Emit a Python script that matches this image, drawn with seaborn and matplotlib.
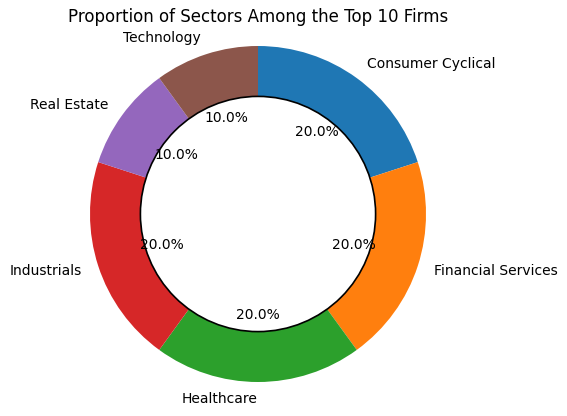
import matplotlib
matplotlib.use("Agg")
import matplotlib.pyplot as plt
import seaborn as sns

sectors = ["Consumer Cyclical", "Financial Services", "Healthcare", "Industrials", "Real Estate", "Technology"]
counts = [2, 2, 2, 2, 1, 1]

colors = sns.color_palette("tab10", len(sectors))
W, H = 567, 416
cx, cy, r = 258, 214, 168
fig = plt.figure(figsize=(W / 100, H / 100), dpi=100)
ax = fig.add_axes([0, 0, 1, 1])
ax.pie(counts, labels=sectors, colors=colors, autopct="%1.1f%%", startangle=90,
       counterclock=False, pctdistance=0.6)
circle = plt.Circle((0, 0), 0.7, facecolor="white", edgecolor="black", linewidth=1.2)
ax.add_artist(circle)
ax.set_aspect("auto")
ax.set_xlim(-cx / r, (W - cx) / r)
ax.set_ylim(-(H - cy) / r, cy / r)
ax.axis("off")
fig.text(cx / W, 1 - 17 / H, "Proportion of Sectors Among the Top 10 Firms",
         ha="center", va="center", fontsize=12)
fig.savefig("out.png", dpi=100)
